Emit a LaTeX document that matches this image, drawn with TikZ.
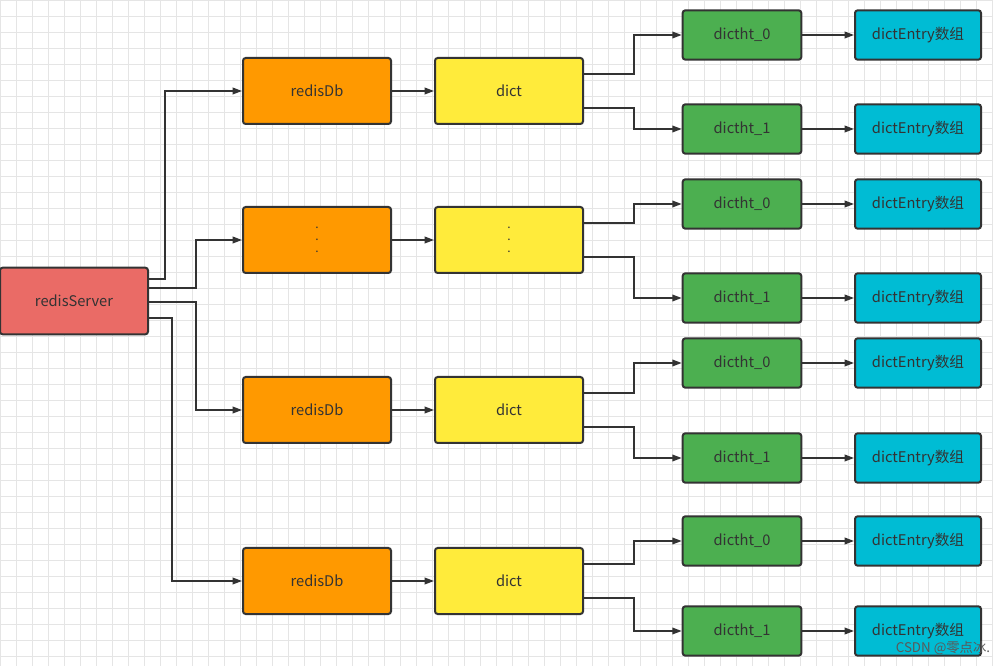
\documentclass[tikz,border=0pt]{standalone}
\usepackage{fontspec}
\setmainfont{Noto Sans CJK SC}
\usetikzlibrary{arrows.meta}
\definecolor{srv}{HTML}{EA6B66}
\definecolor{db}{HTML}{FF9900}
\definecolor{dc}{HTML}{FFEB3B}
\definecolor{ht}{HTML}{4CAF50}
\definecolor{en}{HTML}{00BCD4}
\definecolor{ln}{HTML}{333333}
\begin{document}
\begin{tikzpicture}[x=0.75pt,y=-0.75pt,
  box/.style={draw=ln,line width=1.5pt,rounded corners=2pt,inner sep=0pt,font=\fontsize{11}{13}\selectfont,text=ln},
  s/.style={box,fill=srv,minimum width=111pt,minimum height=50pt},
  d/.style={box,fill=db,minimum width=111pt,minimum height=49.5pt},
  k/.style={box,fill=dc,minimum width=111pt,minimum height=49.5pt},
  h/.style={box,fill=ht,minimum width=89pt,minimum height=37pt},
  e/.style={box,fill=en,minimum width=94.5pt,minimum height=37pt},
  ar/.style={draw=ln,line width=1.1pt,-{Triangle[length=7pt,width=5pt]}}]
\useasboundingbox (0,0) rectangle (993,666);
\fill[white] (0,0) rectangle (993,666);
\foreach \g in {0,16,...,992}{\draw[black!10,line width=0.5pt] (\g,0) -- (\g,666);}
\foreach \g in {0,16,...,665}{\draw[black!10,line width=0.5pt] (0,\g) -- (993,\g);}
\node[s] (srv) at (74,301) {redisServer};
\foreach \i/\y/\t in {1/91/redisDb,2/240/{},3/410/redisDb,4/581/redisDb}{
  \node[d] (db\i) at (317,\y) {\t};
}
\foreach \i/\y/\t in {1/91/dict,2/240/{},3/410/dict,4/581/dict}{
  \node[k] (dc\i) at (509,\y) {\t};
}
\node[font=\small,align=center,text=ln] (dt1) at (317,240) {.\\[-2pt].\\[-2pt].};
\node[font=\small,align=center,text=ln] (dt2) at (509,240) {.\\[-2pt].\\[-2pt].};
\foreach \i/\a/\b in {1/35/129,2/204/298,3/363/458,4/541/631}{
  \node[h] (ha\i) at (742,\a) {dictht\_0};
  \node[h] (hb\i) at (742,\b) {dictht\_1};
  \node[e] (ea\i) at (918,\a) {dictEntry数组};
  \node[e] (eb\i) at (918,\b) {dictEntry数组};
  \draw[ar] (ha\i) -- (ea\i);
  \draw[ar] (hb\i) -- (eb\i);
  \draw[ar] (db\i) -- (dc\i);
  \draw[ar] ([yshift=12.75pt]dc\i.east) -- ++(50,0) |- (ha\i);
  \draw[ar] ([yshift=-12.75pt]dc\i.east) -- ++(50,0) |- (hb\i);
}
\draw[ar] ([yshift=16.5pt]srv.east) -- (165,279) |- (db1);
\draw[ar] ([yshift=9.75pt]srv.east) -- (196,288) |- (db2);
\draw[ar] ([yshift=-0.75pt]srv.east) -- (196,302) |- (db3);
\draw[ar] ([yshift=-12.75pt]srv.east) -- (172,318) |- (db4);
\node[anchor=south east,font=\fontsize{10}{12}\selectfont,text=black!65,inner sep=2pt] (wm) at (993,658) {CSDN @零点冰.};
\end{tikzpicture}
\end{document}
